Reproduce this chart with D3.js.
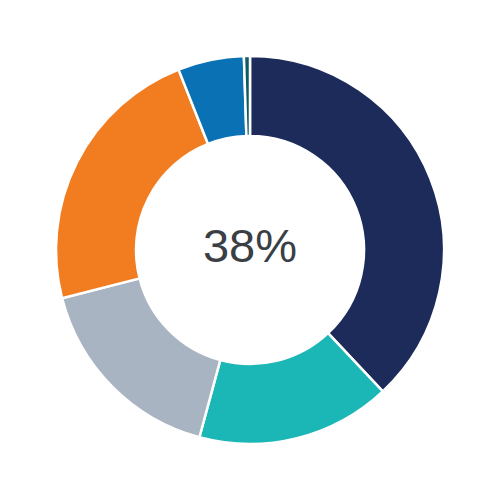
<!DOCTYPE html>
<html>
<head>
<meta charset="utf-8">
<script src="https://cdn.jsdelivr.net/npm/d3@7"></script>
<style>
  body { margin: 0; background: #fff; }
</style>
</head>
<body>
<svg id="chart" width="500" height="500"></svg>
<script>
// slice values, clockwise from 12 o'clock
var labels = ["A", "B", "C", "D", "E", "F"];
var values = [38, 16.2, 16.8, 23, 5.5, 0.5];
var colors = ["#1c2b5a", "#1bb6b6", "#a9b4c3", "#f27d21", "#0a72b4", "#0d5b60"];
var centerLabel = "38%";

var svg = d3.select("#chart"),
    width = +svg.attr("width"),
    height = +svg.attr("height"),
    outer = 194,
    inner = 114,
    g = svg.append("g").attr("transform", "translate(" + width / 2 + "," + height / 2 + ")");

var pie = d3.pie().sort(null).value(function(d) { return d; });
var arc = d3.arc().innerRadius(inner).outerRadius(outer);

var color = d3.scaleOrdinal().domain(labels).range(colors);

g.selectAll("path")
    .data(pie(values))
    .enter().append("path")
    .attr("d", arc)
    .attr("fill", function(d, i) { return color(labels[i]); })
    .attr("stroke", "#fff")
    .attr("stroke-width", 2.5);

g.append("text")
    .attr("text-anchor", "middle")
    .attr("y", 12)
    .attr("font-family", "Liberation Sans, Arial, sans-serif")
    .attr("font-size", 47)
    .attr("fill", "#3a3f45")
    .text(centerLabel);
</script>
</body>
</html>
